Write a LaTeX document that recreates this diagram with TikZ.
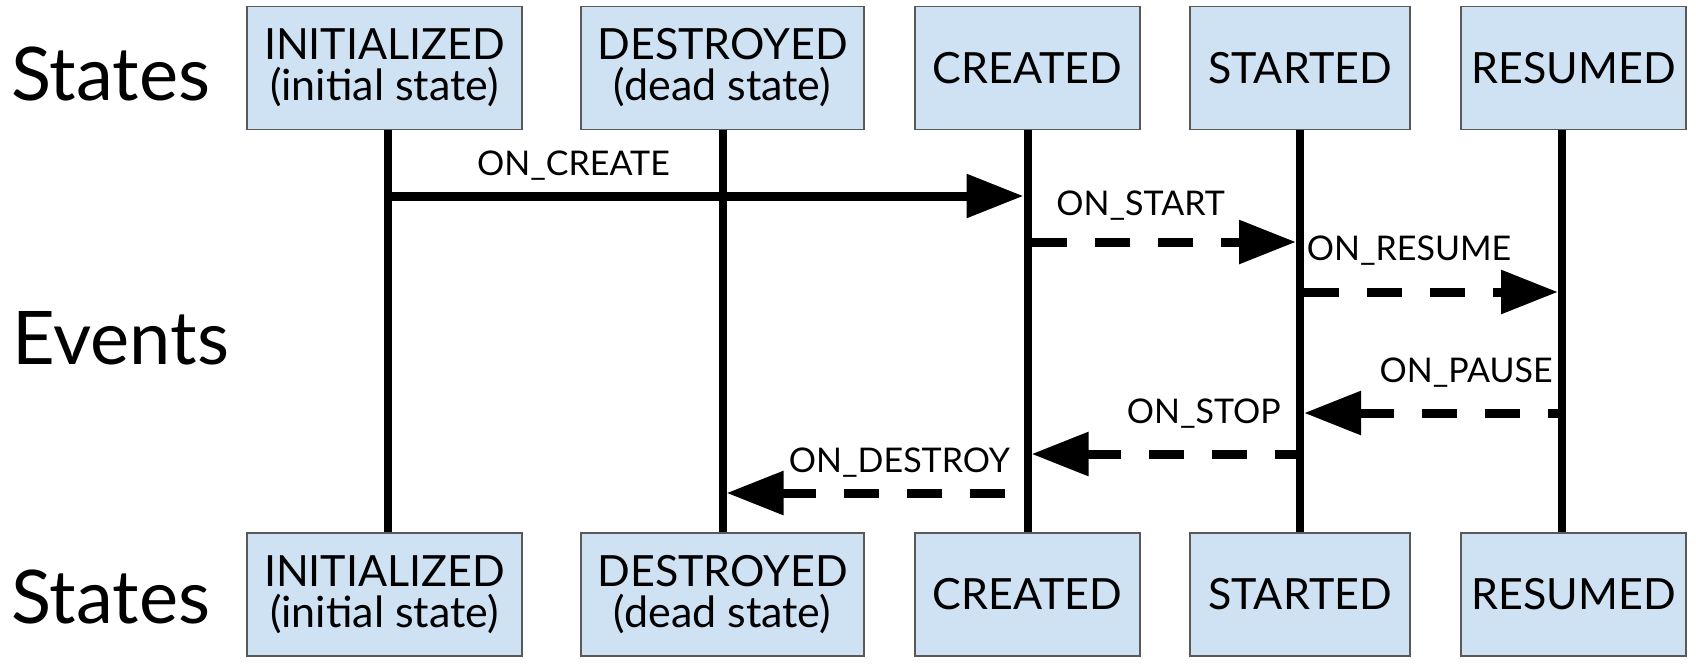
\documentclass[tikz,border=0pt]{standalone}
\usepackage{fontspec}
\setmainfont{Lato}
\usetikzlibrary{arrows.meta}
\definecolor{boxblue}{HTML}{CFE2F3}

\begin{document}
\begin{tikzpicture}[x=0.5pt, y=-0.5pt,
    state/.style={draw=black!65, line width=0.6pt, fill=boxblue, align=center,
        inner sep=0pt, minimum height=61.5pt, font=\fontsize{21.5}{20.5}\selectfont},
    life/.style={line width=4pt},
    msg/.style={line width=4.5pt, shorten <=2pt, shorten >=2pt},
    ev/.style={msg, dash pattern=on 17.5pt off 14pt},
    lbl/.style={anchor=base, inner sep=0pt, font=\fontsize{17}{20}\selectfont},
    big/.style={anchor=base west, inner sep=0pt, font=\fontsize{37}{40}\selectfont},
    >={Triangle[length=28.5pt,width=21pt]}]%
    \useasboundingbox (0,0) rectangle (1696,664);
    \node[big] (s1) at (11,100) {States};
    \node[big] (ev) at (12,364) {Events};
    \node[big] (s2) at (11,623) {States};
    % states on top
    \node[state, minimum width=137.5pt] (t1) at (384.5,68) {INITIALIZED\\(initial state)};
    \node[state, minimum width=141.5pt] (t2) at (722.5,68) {DESTROYED\\(dead state)};
    \node[state, minimum width=112.5pt] (t3) at (1027.5,68) {CREATED};
    \node[state, minimum width=110pt] (t4) at (1300,68) {STARTED};
    \node[state, minimum width=112.5pt] (t5) at (1573.5,68) {RESUMED};
    % states at the bottom
    \node[state, minimum width=137.5pt] (b1) at (384.5,594.5) {INITIALIZED\\(initial state)};
    \node[state, minimum width=141.5pt] (b2) at (722.5,594.5) {DESTROYED\\(dead state)};
    \node[state, minimum width=112.5pt] (b3) at (1027.5,594.5) {CREATED};
    \node[state, minimum width=110pt] (b4) at (1300,594.5) {STARTED};
    \node[state, minimum width=112.5pt] (b5) at (1573.5,594.5) {RESUMED};
    % lifelines
    \draw[life] ([xshift=1.75pt]t1.south) -- ([xshift=1.75pt]b1.north);
    \draw[life] (t2) -- (b2);
    \draw[life] (t3) -- (b3);
    \draw[life] (t4) -- (b4);
    \draw[life] ([xshift=-5.75pt]t5.south) -- ([xshift=-5.75pt]b5.north);
    % events
    \coordinate (e1) at (0,196);
    \coordinate (e2) at (0,242);
    \coordinate (e3) at (0,292);
    \coordinate (e4) at (0,413);
    \coordinate (e5) at (0,454);
    \coordinate (e6) at (0,493);
    \draw[msg, ->] ([xshift=1.75pt]t1.south |- e1) -- node[lbl, pos=.29, yshift=10.5pt] {ON\_CREATE} (t3.south |- e1);
    \draw[ev, ->] (t3.south |- e2) -- node[lbl, pos=.415, yshift=13.5pt] {ON\_START} (t4.south |- e2);
    \draw[ev, ->] (t4.south |- e3) -- node[lbl, pos=.416, yshift=16pt] {ON\_RESUME} ([xshift=-5.75pt]t5.south |- e3);
    \draw[ev, <-] (t4.south |- e4) -- node[lbl, pos=.634, yshift=15.5pt] {ON\_PAUSE} ([xshift=-5.75pt]t5.south |- e4);
    \draw[ev, <-] (t3.south |- e5) -- node[lbl, pos=.647, yshift=15.5pt] {ON\_STOP} (t4.south |- e5);
    \draw[ev, <-] (t2.south |- e6) -- node[lbl, pos=.58, yshift=10.5pt] {ON\_DESTROY} (t3.south |- e6);
\end{tikzpicture}
\end{document}
